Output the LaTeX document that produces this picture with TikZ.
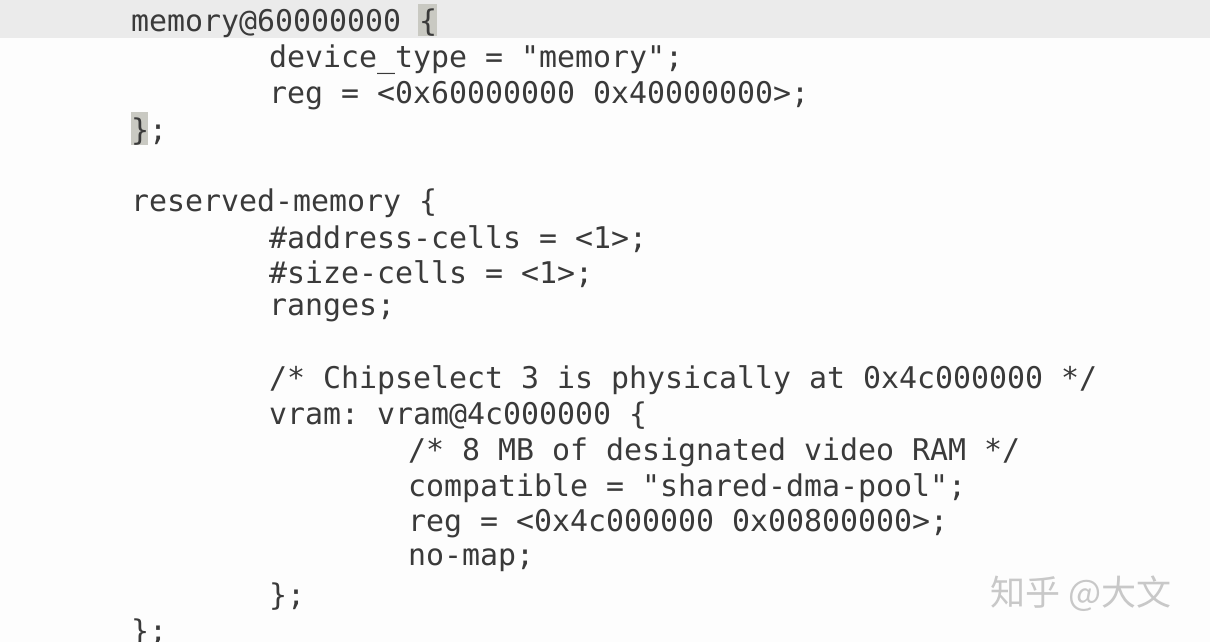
\documentclass[tikz,border=0pt]{standalone}
\usepackage{fontspec}
\setmonofont{DejaVu Sans Mono}
\newfontfamily\cjk{Noto Sans CJK SC}
\definecolor{bgc}{HTML}{FDFDFD}
\definecolor{hl}{HTML}{EBEBEB}
\definecolor{cur}{HTML}{C9C9C2}
\definecolor{txt}{HTML}{3A3A3A}
\definecolor{wm}{HTML}{C8C8C8}
\tikzset{code/.style={anchor=west,inner sep=0pt,yshift=-3pt,font=\ttfamily\fontsize{29.9}{30}\selectfont,text=txt}}
\begin{document}
\begin{tikzpicture}[x=1pt,y=-1pt]
\useasboundingbox (0,0) rectangle (1210,642);
\fill[bgc] (0,0) rectangle (1210,642);
\fill[hl] (0,0) rectangle (1210,38);
\fill[cur] (418,4) rectangle (437,36);
\fill[cur] (131,112) rectangle (148,145);
\node[code] (l1) at (131,20) {memory@60000000 \{};
\node[code] (l2) at (269,57) {device\_type = "memory";};
\node[code] (l3) at (269,93) {reg = <0x60000000 0x40000000>;};
\node[code] (l4) at (131,129) {\};};
\node[code] (l5) at (131,200) {reserved-memory \{};
\node[code] (l6) at (269,236) {\#address-cells = <1>;};
\node[code] (l7) at (269,271) {\#size-cells = <1>;};
\node[code] (l8) at (269,307) {ranges;};
\node[code] (l9) at (269,377) {/* Chipselect 3 is physically at 0x4c000000 */};
\node[code] (l10) at (269,413) {vram: vram@4c000000 \{};
\node[code] (l11) at (408,449) {/* 8 MB of designated video RAM */};
\node[code] (l12) at (408,485) {compatible = "shared-dma-pool";};
\node[code] (l13) at (408,521) {reg = <0x4c000000 0x00800000>;};
\node[code] (l14) at (408,557) {no-map;};
\node[code] (l15) at (269,594) {\};};
\node[code] (l16) at (131,630) {\};};
\node[anchor=west,inner sep=0pt,text=wm,font=\cjk\fontsize{35}{36}\selectfont] (wmk) at (990,594) {知乎 @大文};
\end{tikzpicture}
\end{document}
